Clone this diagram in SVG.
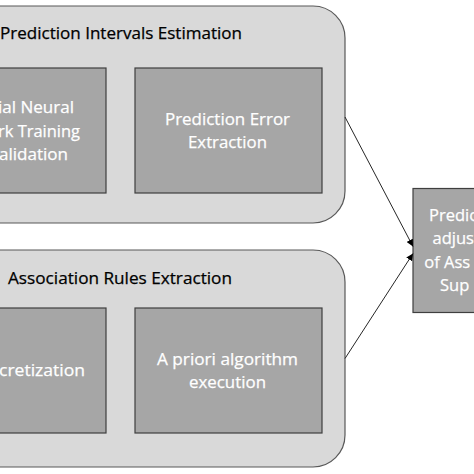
<svg xmlns="http://www.w3.org/2000/svg" width="474" height="474" viewBox="0 0 474 474">
<style>
.cont{fill:#d9d9d9;stroke:#595959;stroke-width:1.2}
.box{fill:#a6a6a6;stroke:#3f3f3f;stroke-width:1.2}
.title{font-family:"Open Sans","DejaVu Sans",sans-serif;font-size:16.5px;fill:#000;stroke:#000;stroke-width:0.25}
.lbl{font-family:"Open Sans","DejaVu Sans",sans-serif;font-size:16.5px;fill:#fff;stroke:#fff;stroke-width:0.25}
.conn{stroke:#262626;stroke-width:1;fill:none}
</style>
<defs>
<marker id="ah" viewBox="0 0 10 10" refX="10" refY="5" markerWidth="7" markerHeight="7" markerUnits="userSpaceOnUse" orient="auto">
<path d="M0,0 L10,5 L0,10 z" fill="#000"/>
</marker>
</defs>
<rect width="474" height="474" fill="#fff"/>
<g id="pie-group">
<rect class="cont" x="-60" y="6" width="405" height="217" rx="32" ry="32"/>
<text class="title" x="0" y="39" textLength="242" lengthAdjust="spacingAndGlyphs">Prediction Intervals Estimation</text>
</g>
<g id="ann-node">
<rect class="box" x="-81" y="68" width="187" height="125"/>
<text class="lbl" x="74" y="113" text-anchor="end" textLength="76" lengthAdjust="spacingAndGlyphs">ial Neural</text>
<text class="lbl" x="80" y="136.5" text-anchor="end" textLength="82" lengthAdjust="spacingAndGlyphs">rk Training</text>
<text class="lbl" x="68" y="160" text-anchor="end" textLength="69" lengthAdjust="spacingAndGlyphs">alidation</text>
</g>
<g id="pee-node">
<rect class="box" x="135" y="68" width="187" height="125"/>
<text class="lbl" x="227.5" y="124.6" text-anchor="middle" textLength="125" lengthAdjust="spacingAndGlyphs">Prediction Error</text>
<text class="lbl" x="227.5" y="148" text-anchor="middle" textLength="79" lengthAdjust="spacingAndGlyphs">Extraction</text>
</g>
<g id="are-group">
<rect class="cont" x="-60" y="250" width="405" height="217" rx="32" ry="32"/>
<text class="title" x="8" y="284" textLength="224" lengthAdjust="spacingAndGlyphs">Association Rules Extraction</text>
</g>
<g id="disc-node">
<rect class="box" x="-81" y="308" width="187" height="125"/>
<text class="lbl" x="85" y="376.3" text-anchor="end" textLength="86" lengthAdjust="spacingAndGlyphs">cretization</text>
</g>
<g id="apriori-node">
<rect class="box" x="135" y="308" width="187" height="125"/>
<text class="lbl" x="227.5" y="364.6" text-anchor="middle" textLength="141" lengthAdjust="spacingAndGlyphs">A priori algorithm</text>
<text class="lbl" x="227.5" y="388" text-anchor="middle" textLength="77" lengthAdjust="spacingAndGlyphs">execution</text>
</g>
<g id="adjust-node">
<rect class="box" x="413" y="188.5" width="100" height="124"/>
<text class="lbl" x="429" y="221">Predic</text>
<text class="lbl" x="432.5" y="244.4">adjus</text>
<text class="lbl" x="424.3" y="267.9">of Ass</text>
<text class="lbl" x="440" y="291.4">Sup</text>
</g>
<g id="connectors">
<line class="conn" x1="345" y1="117" x2="413" y2="246.5" marker-end="url(#ah)"/>
<line class="conn" x1="345" y1="358.5" x2="413" y2="253.5" marker-end="url(#ah)"/>
</g>
</svg>
